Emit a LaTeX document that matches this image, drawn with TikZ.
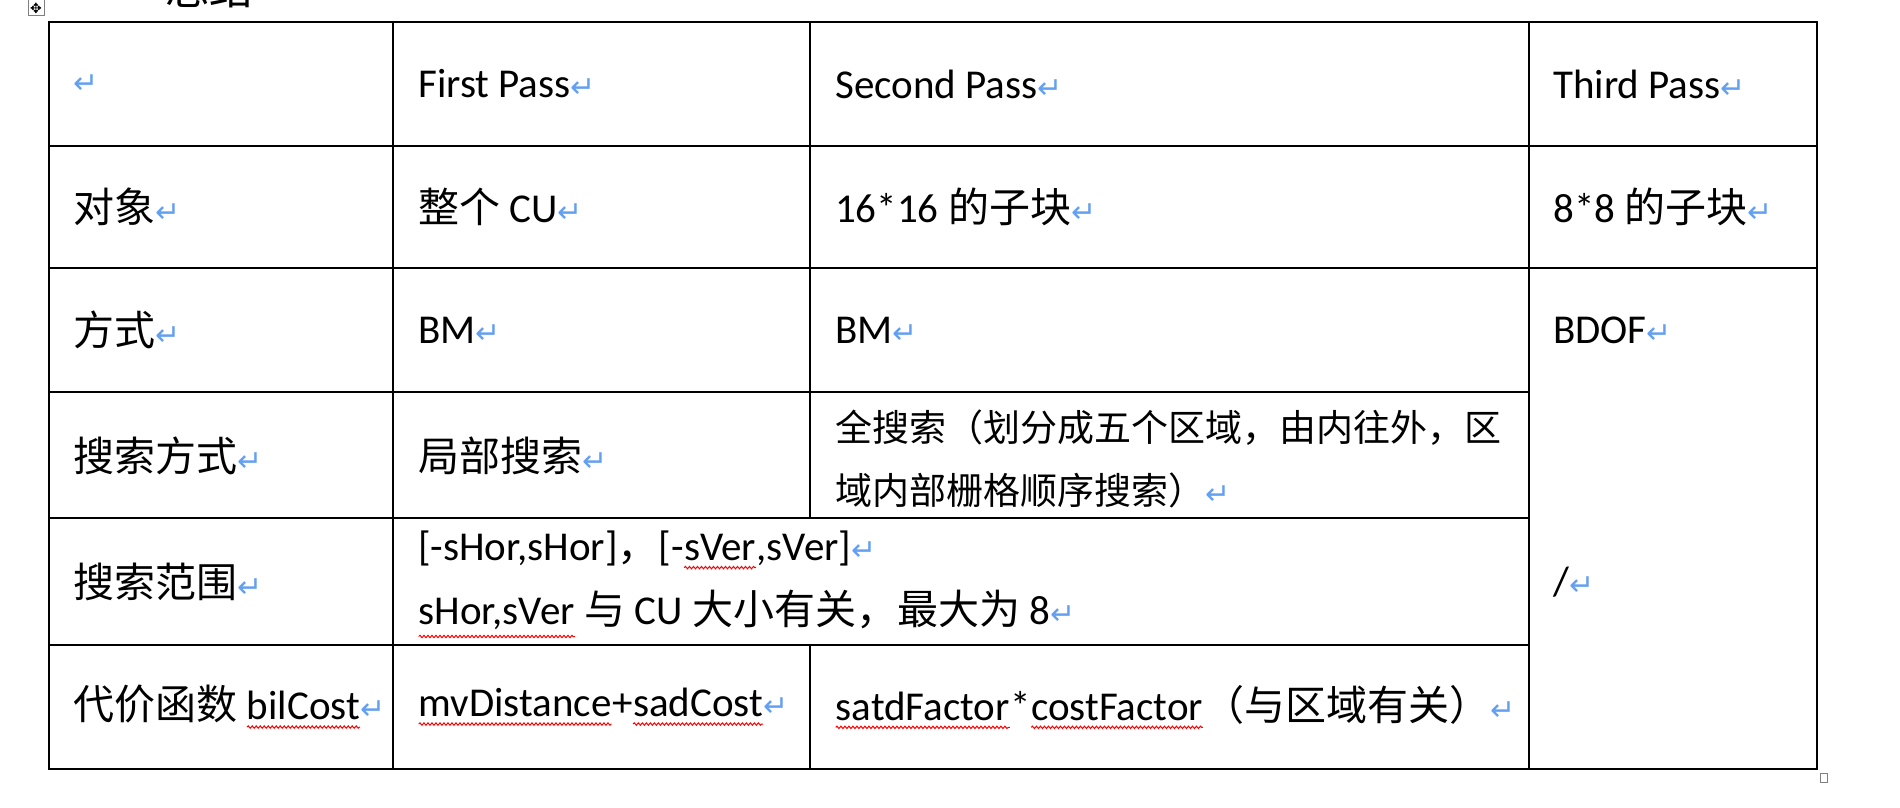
\documentclass[tikz,border=0pt]{standalone}
\usepackage{fontspec}
\setmainfont{Carlito}
\newfontfamily\cjk{Noto Sans CJK SC}
\newfontfamily\dejavu{DejaVu Sans}
\usetikzlibrary{decorations.pathmorphing}
\definecolor{retblue}{RGB}{100,160,240}
\newcommand\ret{{\color{retblue}\dejavu\fontsize{30}{30}\selectfont ↵}}
\newcommand\squig[1]{\tikz[baseline=(w.base)]{\node[inner sep=0pt,outer sep=0pt](w){#1};\draw[red,line width=1pt,decorate,decoration={snake,amplitude=1.2pt,segment length=4pt}] ([yshift=-7pt]w.south west)--([yshift=-7pt]w.south east);}}
\tikzset{cell/.style={anchor=west,inner sep=0pt,font=\fontsize{41}{48}\selectfont},
 grid/.style={line width=2pt,black}}
\begin{document}
\begin{tikzpicture}[x=1pt,y=-1pt]
\useasboundingbox (0,0) rectangle (1900,808);
\fill[white] (0,0) rectangle (1900,808);
% move icon and cut heading
\node[draw=gray,line width=1pt,minimum size=16pt,inner sep=0pt,font=\dejavu\fontsize{14}{14}\selectfont] (icon) at (36,8) {✥};
\node[anchor=south west,inner sep=0pt,font=\cjk\fontsize{44}{44}\selectfont] (head) at (165,8) {总结};
% grid
\coordinate (TL) at (49,22); \coordinate (BR) at (1817,769);
\draw[grid] (TL) rectangle (BR);
\foreach \y in {146,268,392,518,645} \draw[grid] (49,\y) -- (1529,\y);
\draw[grid] (1529,146) -- (1817,146);
\draw[grid] (1529,268) -- (1817,268);
\draw[grid] (393,22) -- (393,769);
\draw[grid] (810,22) -- (810,518);
\draw[grid] (810,645) -- (810,769);
\draw[grid] (1529,22) -- (1529,769);
\node[draw=gray,line width=1pt,minimum width=7pt,minimum height=9pt,inner sep=0pt] (corner) at (1824,778) {};
% row 1
\node[cell] (a1) at (73,84) {\ret};
\node[cell] (b1) at (418,84) {First Pass\ret};
\node[cell] (c1) at (835,84) {Second Pass\ret};
\node[cell] (d1) at (1553,84) {Third Pass\ret};
% row 2
\node[cell] (a2) at (73,207) {\cjk 对象\ret};
\node[cell] (b2) at (418,207) {{\cjk 整个} CU\ret};
\node[cell] (c2) at (835,207) {16*16 {\cjk 的子块}\ret};
\node[cell] (d2) at (1553,207) {8*8 {\cjk 的子块}\ret};
% row 3
\node[cell] (a3) at (73,330) {{\cjk 方式}\ret};
\node[cell] (b3) at (418,330) {BM\ret};
\node[cell] (c3) at (835,330) {BM\ret};
\node[cell] (d3) at (1553,330) {BDOF\ret};
% row 4
\node[cell] (a4) at (73,456) {{\cjk 搜索方式}\ret};
\node[cell] (b4) at (418,456) {{\cjk 局部搜索}\ret};
\node[cell,font=\fontsize{37}{44}\selectfont] (c4a) at (835,428) {\cjk 全搜索（划分成五个区域，由内往外，区};
\node[cell,font=\fontsize{37}{44}\selectfont] (c4b) at (835,490) {{\cjk 域内部栅格顺序搜索）}\ret};
% col 4 merged
\node[cell] (d4) at (1553,582) {/\ret};
% row 5
\node[cell] (a5) at (73,582) {{\cjk 搜索范围}\ret};
\node[cell] (b5a) at (418,550) {[-sHor,sHor]{\cjk ，}[-\squig{sVer},sVer]\ret};
\node[cell] (b5b) at (418,614) {\squig{sHor,sVer} {\cjk 与} CU {\cjk 大小有关，最大为} 8\ret};
% row 6
\node[cell] (a6) at (73,707) {{\cjk 代价函数} \squig{bilCost}\ret};
\node[cell] (b6) at (418,707) {\squig{mvDistance}+\squig{sadCost}\ret};
\node[cell] (c6) at (835,707) {\squig{satdFactor}*\squig{costFactor}{\cjk （与区域有关）}\ret};
\end{tikzpicture}
\end{document}
